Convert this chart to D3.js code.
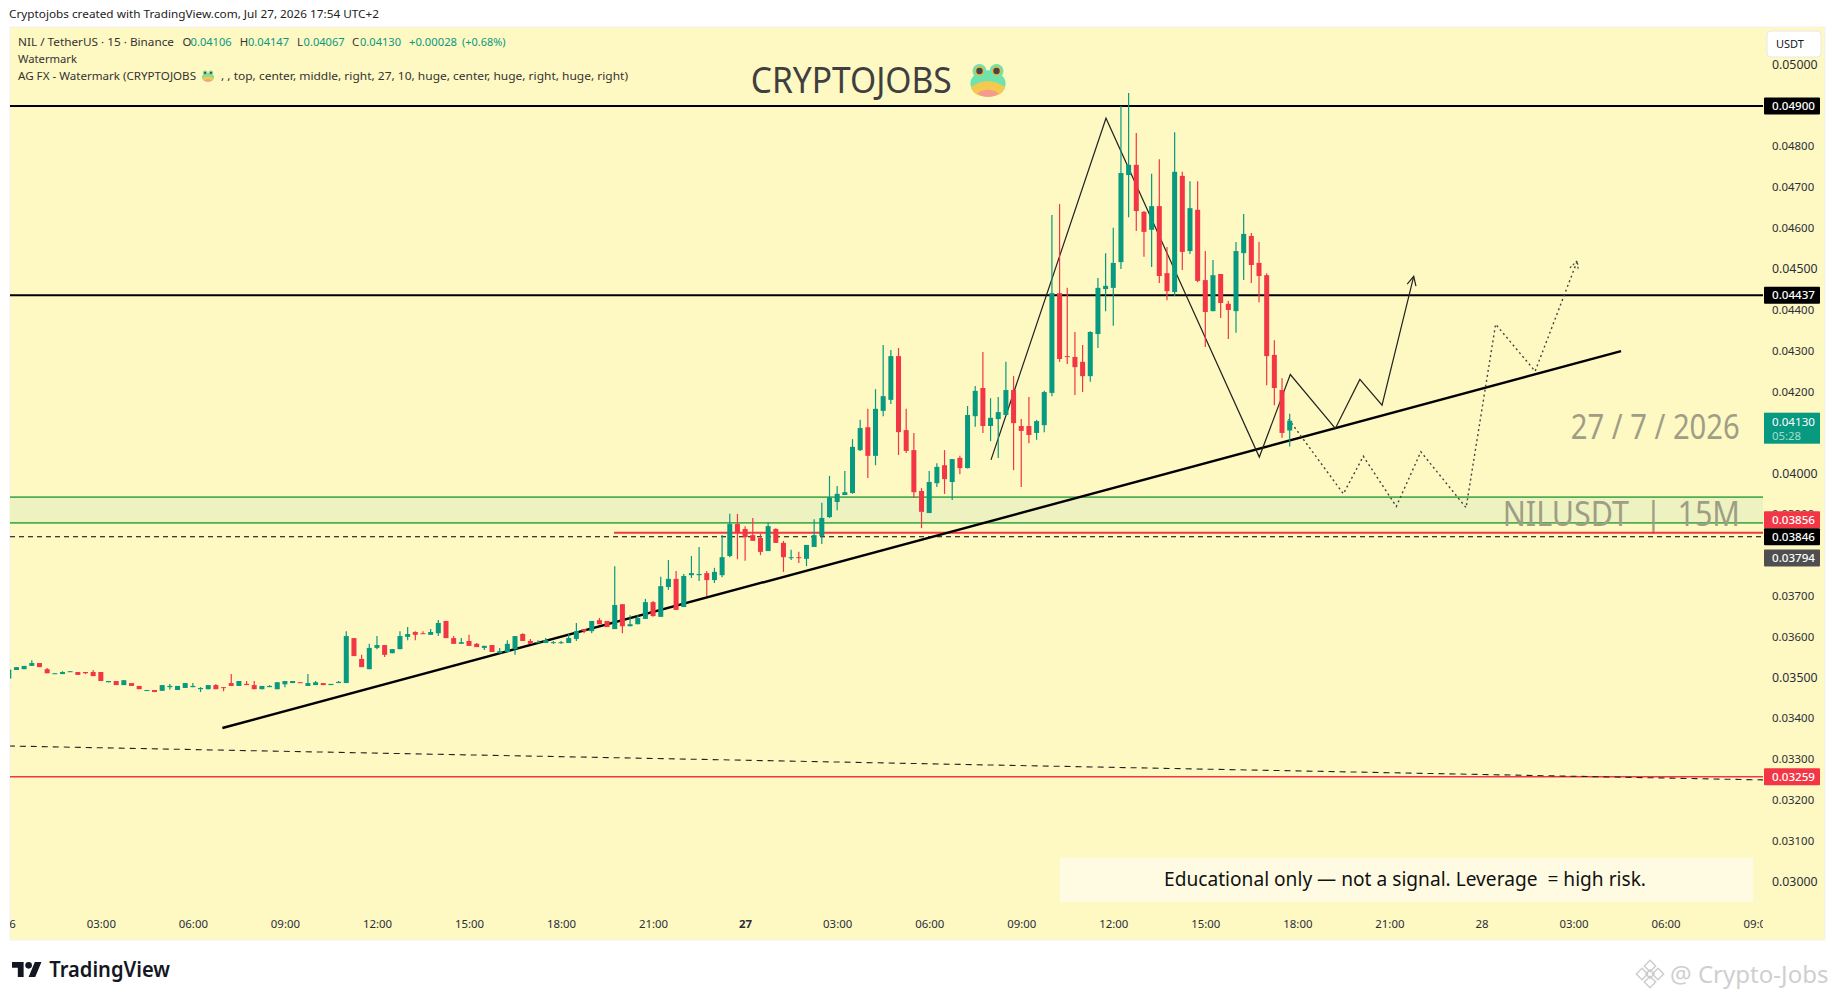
<!DOCTYPE html>
<html>
<head>
<meta charset="utf-8">
<title>NILUSDT 15M</title>
<script src="https://cdn.jsdelivr.net/npm/d3@7"></script>
<style>
body { margin: 0; background: #ffffff; }
text { font-family: "Noto Sans", sans-serif; }
</style>
</head>
<body>
<div id="chart"></div>
<script>
// Candles, in units of 0.00001 USDT, one entry per 15 minute bar from Jul 26 00:00
var opens = [
	3499,3520,3522,3530,3537,3522,3510,3510,3515,3515,
	3515,3515,3515,3490,3493,3483,3488,3481,3469,3471,
	3469,3478,3471,3476,3478,3473,3473,3483,3478,3488,
	3481,3486,3483,3473,3478,3473,3485,3488,3490,3481,
	3483,3488,3483,3488,3488,3598,3547,3522,3574,3581,
	3561,3571,3601,3613,3610,3606,3610,3640,3598,3584,
	3591,3584,3574,3581,3561,3564,3571,3608,3591,3586,
	3586,3586,3586,3586,3596,3620,3615,3642,3640,3620,
	3681,3627,3632,3645,3686,3650,3723,3743,3674,3752,
	3752,3757,3740,3752,3799,3877,3865,3850,3843,3811,
	3865,3831,3794,3796,3792,3821,3848,3894,3931,3948,
	3953,4058,4114,4044,4154,4181,4288,4107,4058,3958,
	3904,3977,4021,3980,4039,4014,4141,4210,4117,4134,
	4144,4205,4117,4117,4100,4119,4198,4442,4288,4286,
	4274,4239,4342,4452,4455,4518,4731,4756,4641,4597,
	4655,4491,4445,4729,4545,4646,4474,4398,4489,4416,
	4398,4540,4582,4516,4486,4291,4205,4106];
var highs = [
	3521,3527,3530,3544,3537,3525,3512,3517,3517,3515,
	3515,3520,3515,3493,3493,3495,3488,3481,3471,3471,
	3483,3486,3481,3488,3488,3478,3483,3486,3478,3510,
	3493,3493,3493,3481,3483,3490,3493,3493,3490,3510,
	3493,3488,3486,3493,3615,3598,3557,3584,3603,3581,
	3571,3615,3625,3615,3615,3620,3642,3640,3603,3598,
	3606,3586,3579,3581,3574,3593,3603,3610,3596,3593,
	3598,3591,3591,3610,3635,3620,3640,3647,3640,3774,
	3681,3654,3654,3694,3689,3748,3789,3762,3755,3799,
	3821,3762,3770,3850,3902,3902,3872,3892,3853,3880,
	3867,3836,3814,3809,3826,3889,3929,3995,3970,4007,
	4085,4132,4159,4207,4315,4303,4308,4159,4100,3965,
	4007,4026,4058,4036,4044,4166,4215,4298,4185,4188,
	4274,4239,4134,4188,4132,4203,4633,4660,4455,4347,
	4315,4349,4479,4540,4602,4900,4932,4834,4643,4734,
	4770,4555,4836,4739,4716,4716,4545,4523,4489,4423,
	4567,4636,4589,4567,4491,4327,4234,4147];
var lows = [
	3499,3520,3522,3530,3527,3512,3510,3510,3515,3508,
	3510,3505,3493,3490,3483,3483,3481,3473,3469,3466,
	3469,3472,3471,3476,3478,3466,3473,3473,3468,3481,
	3481,3483,3473,3473,3478,3473,3478,3488,3488,3481,
	3483,3483,3483,3488,3488,3554,3527,3522,3571,3552,
	3561,3571,3593,3593,3608,3606,3603,3598,3584,3584,
	3579,3576,3569,3564,3561,3564,3557,3591,3584,3586,
	3586,3584,3584,3586,3591,3610,3610,3632,3625,3620,
	3610,3627,3632,3645,3650,3650,3716,3667,3674,3745,
	3738,3701,3733,3747,3796,3791,3787,3836,3801,3811,
	3831,3760,3789,3782,3774,3821,3828,3892,3911,3948,
	3951,4056,3990,4021,4141,4171,4046,4051,3941,3867,
	3904,3968,3951,3936,3999,4013,4115,4100,4080,4039,
	4144,4009,3968,4075,4083,4102,4190,4274,4269,4193,
	4200,4225,4308,4398,4362,4501,4628,4594,4531,4506,
	4467,4425,4435,4499,4538,4469,4310,4398,4381,4330,
	4345,4474,4467,4420,4217,4168,4088,4067];
var closes = [
	3521,3527,3530,3537,3527,3512,3512,3515,3517,3508,
	3512,3505,3493,3493,3483,3495,3481,3473,3471,3466,
	3483,3481,3481,3488,3481,3476,3483,3473,3476,3481,
	3493,3483,3473,3481,3481,3490,3493,3493,3488,3488,
	3490,3483,3486,3491,3603,3554,3527,3574,3581,3557,
	3571,3603,3608,3606,3608,3613,3635,3598,3584,3588,
	3579,3576,3579,3564,3566,3584,3603,3591,3584,3588,
	3593,3588,3588,3598,3615,3615,3640,3632,3625,3679,
	3627,3632,3647,3686,3652,3725,3743,3667,3750,3757,
	3755,3740,3760,3796,3877,3855,3845,3836,3809,3872,
	3831,3796,3796,3794,3826,3850,3892,3942,3951,3955,
	4066,4112,4044,4159,4190,4288,4102,4056,3955,3907,
	3980,4017,3987,4036,4014,4144,4203,4117,4137,4151,
	4205,4124,4105,4095,4129,4200,4442,4281,4286,4261,
	4239,4347,4455,4460,4516,4736,4756,4643,4592,4655,
	4484,4447,4739,4543,4650,4472,4396,4486,4418,4401,
	4545,4587,4511,4484,4288,4210,4100,4130];

// Axis ticks (0.04100 and 0.03800 sit behind price tags in the picture)
var priceTicks = [5000,4900,4800,4700,4600,4500,4400,4300,4200,4000,3900,3700,3600,3500,3400,3300,3200,3100,3000];
var timeTicks = [0,12,24,36,48,60,72,84,96,108,120,132,144,156,168,180,192,204,216,228];
var timeLabels = ["26","03:00","06:00","09:00","12:00","15:00","18:00","21:00","27","03:00","06:00","09:00","12:00","15:00","18:00","21:00","28","03:00","06:00","09:00"];

// Drawn levels and lines, as [bar, price]
var topLevel = 4900;
var midLevel = 4437;
var zoneTop = 3943;
var zoneBottom = 3880;
var redLevel = 3856;
var redLevelStart = 78.9;
var dashLevel = 3846;
var lowLevel = 3259;
var previewLevel = 3794;
var trendLine = [[27.85,3378],[210.2,4300]];
var slowLine = [[0,3334],[228.7,3251]];
var zigzag = [[128.06,4034],[143.05,4870],[163.04,4041],[167.08,4243],[172.95,4111],[176.15,4231],[179.04,4168],[183.17,4483]];
var dotted = [[166.85,4134],[174,3951],[176.6,4043],[180.9,3920],[184.1,4054],[190,3917],[193.85,4366],[199,4251],[204.5,4521]];

var green = "#089981";
var red = "#f23645";
var paneColor = "#fef8c2";
var stamp = "#9e9e86";

const width = 1835;
const height = 1000;
const paneLeft = 10, paneRight = 1825, paneTop = 27, paneBottom = 940, plotRight = 1763;

var x = d3.scaleLinear().domain([0,228]).range([8.8, 8.8 + 228*7.67]);
var y = d3.scaleLinear().domain([3000,4900]).range([882.5,106]);

var svg = d3.select("#chart").append("svg")
	.attr("width", width)
	.attr("height", height)
	.style("display", "block");

var defs = svg.append("defs");
defs.append("clipPath").attr("id", "plot")
	.append("rect")
	.attr("x", paneLeft).attr("y", paneTop)
	.attr("width", plotRight - paneLeft).attr("height", paneBottom - paneTop);

function addArrow(id, color, dash) {
	defs.append("marker").attr("id", id)
		.attr("viewBox", "0 0 12 12").attr("refX", 10).attr("refY", 6)
		.attr("markerWidth", 12).attr("markerHeight", 12)
		.attr("markerUnits", "userSpaceOnUse").attr("orient", "auto")
		.append("path").attr("d", "M1,1.5L10,6L1,10.5")
		.attr("fill", "none").attr("stroke", color).attr("stroke-width", 1.2)
		.attr("stroke-dasharray", dash);
}
addArrow("arrowSolid", "#222222", null);
addArrow("arrowDotted", "#444444", "2,2");

function label(parent, px, py, str, size, color, fit) {
	var t = parent.append("text")
		.attr("x", px).attr("y", py)
		.attr("font-size", size)
		.attr("fill", color)
		.style("white-space", "pre")
		.text(str);
	if (fit) t.attr("textLength", fit).attr("lengthAdjust", "spacingAndGlyphs");
	return t;
}

function drawFrog(parent, cx, cy, s) {
	var g = parent.append("g").attr("transform", "translate(" + cx + "," + cy + ") scale(" + s + ")");
	g.append("ellipse").attr("cx", 0).attr("cy", 3.5).attr("rx", 17.6).attr("ry", 13.2).attr("fill", "#6fe3ac");
	g.append("path").attr("d", "M-17,7Q-8,1 0,1Q8,1 17,7Q15,16.5 0,16.7Q-15,16.5 -17,7Z").attr("fill", "#f5c94e");
	g.append("path").attr("d", "M-11,13.5Q0,6 11,13.5Q6,16.8 0,16.8Q-6,16.8 -11,13.5Z").attr("fill", "#f79a8e");
	[-8.5,8.5].forEach(function(d){
		g.append("circle").attr("cx", d).attr("cy", -9).attr("r", 7).attr("fill", "#6fe3ac");
		g.append("circle").attr("cx", d).attr("cy", -9).attr("r", 4.6).attr("fill", "#f5b03a");
		g.append("circle").attr("cx", d).attr("cy", -9).attr("r", 3.2).attr("fill", "#474747");
	});
}

// Pane
svg.append("rect")
	.attr("x", paneLeft).attr("y", paneTop)
	.attr("width", paneRight - paneLeft).attr("height", paneBottom - paneTop)
	.attr("fill", paneColor)
	.attr("stroke", "#f2f2f2");

var plot = svg.append("g").attr("clip-path", "url(#plot)");

// Stamped watermark texts sit under everything else
label(plot, 750.7, 92.7, "CRYPTOJOBS", 36, "#3f3f3f", 201);
drawFrog(plot, 988, 80, 1);
label(plot, 1570.7, 439.3, "27 / 7 / 2026", 35, stamp, 169);

// Support zone
plot.append("rect")
	.attr("x", paneLeft).attr("y", y(zoneTop))
	.attr("width", plotRight - paneLeft).attr("height", y(zoneBottom) - y(zoneTop))
	.attr("fill", "#eef2c0");
[zoneTop, zoneBottom].forEach(function(d){
	plot.append("line")
		.attr("x1", paneLeft).attr("x2", plotRight)
		.attr("y1", y(d)).attr("y2", y(d))
		.attr("stroke", "#4fae50").attr("stroke-width", 1.8);
});
label(plot, 1502.7, 526, "NILUSDT  |  15M", 35, stamp, 237.3);

// Horizontal levels
function level(price, color, w, dash, startBar) {
	plot.append("line")
		.attr("x1", startBar === undefined ? paneLeft : x(startBar)).attr("x2", plotRight)
		.attr("y1", y(price)).attr("y2", y(price))
		.attr("stroke", color).attr("stroke-width", w)
		.attr("stroke-dasharray", dash);
}
level(topLevel, "#000000", 2, null);
level(midLevel, "#000000", 2, null);
level(redLevel, red, 2, null, redLevelStart);
level(dashLevel, "#000000", 1.2, "5,4");
level(lowLevel, red, 1.5, null);

var path = d3.line().x(function(d){return x(d[0]);}).y(function(d){return y(d[1]);});

plot.append("path").datum(slowLine).attr("d", path)
	.attr("fill", "none").attr("stroke", "#222222").attr("stroke-width", 1.1).attr("stroke-dasharray", "6,5");
plot.append("path").datum(trendLine).attr("d", path)
	.attr("fill", "none").attr("stroke", "#000000").attr("stroke-width", 2.4);
plot.append("path").datum(zigzag).attr("d", path)
	.attr("fill", "none").attr("stroke", "#222222").attr("stroke-width", 1.2)
	.attr("marker-end", "url(#arrowSolid)");
plot.append("path").datum(dotted).attr("d", path)
	.attr("fill", "none").attr("stroke", "#444444").attr("stroke-width", 1.4).attr("stroke-dasharray", "2,3")
	.attr("marker-end", "url(#arrowDotted)");

// Candles on top of the drawings
var candles = d3.range(opens.length);
var bars = plot.append("g");
bars.selectAll("line").data(candles).enter().append("line")
	.attr("x1", function(d){return x(d);}).attr("x2", function(d){return x(d);})
	.attr("y1", function(d){return y(highs[d]);}).attr("y2", function(d){return y(lows[d]);})
	.attr("stroke", function(d){return closes[d] >= opens[d] ? green : red;})
	.attr("stroke-width", 1.2);
bars.selectAll("rect").data(candles).enter().append("rect")
	.attr("x", function(d){return x(d) - 2.5;})
	.attr("width", 5)
	.attr("y", function(d){return y(Math.max(opens[d], closes[d]));})
	.attr("height", function(d){return Math.max(1, Math.abs(y(opens[d]) - y(closes[d])));})
	.attr("fill", function(d){return closes[d] >= opens[d] ? green : red;});

// Note box
svg.append("rect")
	.attr("x", 1059.7).attr("y", 857.7).attr("width", 693.6).attr("height", 44)
	.attr("fill", "#fffbe3");
label(svg, 1164, 886, "Educational only — not a signal. Leverage  = high risk.", 19, "#111111", 482);

// Axes
var priceAxis = svg.append("g")
	.attr("transform", "translate(1772,-0.7)")
	.call(d3.axisRight(y).tickValues(priceTicks).tickSize(0).tickPadding(0)
		.tickFormat(function(d){return (d/100000).toFixed(5);}));
priceAxis.select(".domain").remove();
priceAxis.selectAll("text")
	.style("font-family", '"Noto Sans", sans-serif')
	.attr("font-size", function(d){return d % 500 === 0 ? 12.3 : 11.4;})
	.attr("fill", "#2a2e39");

var timeAxis = svg.append("g").attr("clip-path", "url(#plot)").append("g")
	.attr("transform", "translate(0,920)")
	.call(d3.axisBottom(x).tickValues(timeTicks).tickSize(0).tickPadding(0)
		.tickFormat(function(d,i){return timeLabels[i];}));
timeAxis.select(".domain").remove();
timeAxis.selectAll("text")
	.style("font-family", '"Noto Sans", sans-serif')
	.attr("font-size", 11.4)
	.attr("font-weight", function(d){return d === 96 ? "bold" : "normal";})
	.attr("fill", "#2a2e39");

// Price tags on the axis
function tag(price, color, offsetPrice) {
	var cy = offsetPrice === undefined ? y(price) : y(offsetPrice) - 17;
	svg.append("rect")
		.attr("x", 1764).attr("y", cy - 8.5).attr("width", 56).attr("height", 17)
		.attr("rx", 1).attr("fill", color);
	label(svg, 1772, cy + 4.2, (price/100000).toFixed(5), 11.6, "#ffffff").attr("font-weight", 500);
}
tag(topLevel, "#000000");
tag(midLevel, "#000000");
tag(redLevel, red, dashLevel);
tag(dashLevel, "#000000");
tag(previewLevel, "#4f4f4f");
tag(lowLevel, red);

// Last price tag carries the bar countdown
svg.append("rect")
	.attr("x", 1764).attr("y", y(closes[closes.length-1]) - 8)
	.attr("width", 56).attr("height", 31).attr("fill", green);
label(svg, 1772, y(closes[closes.length-1]) + 5, (closes[closes.length-1]/100000).toFixed(5), 11.6, "#ffffff");
label(svg, 1772, y(closes[closes.length-1]) + 19, "05:28", 11.4, "#a6dccf");

// Currency button
svg.append("rect")
	.attr("x", 1767).attr("y", 31).attr("width", 54).attr("height", 26).attr("rx", 4)
	.attr("fill", "#ffffff").attr("stroke", "#e8e8e8");
label(svg, 1776, 48.3, "USDT", 11, "#131722");

// Header and legend
var ink = "#333333";
label(svg, 9, 18, "Cryptojobs created with TradingView.com, Jul 27, 2026 17:54 UTC+2", 11.4, "#222222", 370);
label(svg, 18, 45.5, "NIL / TetherUS · 15 · Binance", 11.4, ink, 156);
[["O",182.6,"0.04106",190.6],["H",239.7,"0.04147",248],["L",297,"0.04067",303.6],["C",352,"0.04130",360]].forEach(function(d){
	label(svg, d[1], 45.5, d[0], 11.4, ink);
	label(svg, d[3], 45.5, d[2], 11.4, green, 41);
});
label(svg, 409, 45.5, "+0.00028", 11.4, green, 48);
label(svg, 462, 45.5, "(+0.68%)", 11.4, green, 43.5);
label(svg, 18, 62.5, "Watermark", 11.4, ink, 59);
label(svg, 18, 80, "AG FX - Watermark (CRYPTOJOBS", 11.4, ink, 178);
drawFrog(svg, 208, 76, 0.34);
label(svg, 221, 80, ", , top, center, middle, right, 27, 10, huge, center, huge, right, huge, right)", 11.4, ink, 407);

// TradingView mark
var brand = svg.append("g").attr("transform", "translate(12,958.7) scale(0.83)").attr("fill", "#131722");
brand.append("path").attr("d", "M14 22H7V11H0V4h14v18zM28 22h-8l7.5-18h8L28 22z");
brand.append("circle").attr("cx", 20).attr("cy", 8).attr("r", 4);
label(svg, 49.3, 976.5, "TradingView", 21, "#131722", 120.7).attr("font-weight", 600);

// Source mark, bottom right
var diamond = svg.append("g").attr("fill", "none").attr("stroke", "#cccccc").attr("stroke-width", 1.4);
[[1650,966,4],[1642,974,4],[1658,974,4],[1650,982,4],[1650,974,3]].forEach(function(d){
	diamond.append("rect")
		.attr("x", d[0] - d[2]).attr("y", d[1] - d[2]).attr("width", 2*d[2]).attr("height", 2*d[2])
		.attr("transform", "rotate(45," + d[0] + "," + d[1] + ")");
});
label(svg, 1670, 983, "@ Crypto-Jobs", 24, "#cfcfcf", 158.5);
</script>
</body>
</html>
